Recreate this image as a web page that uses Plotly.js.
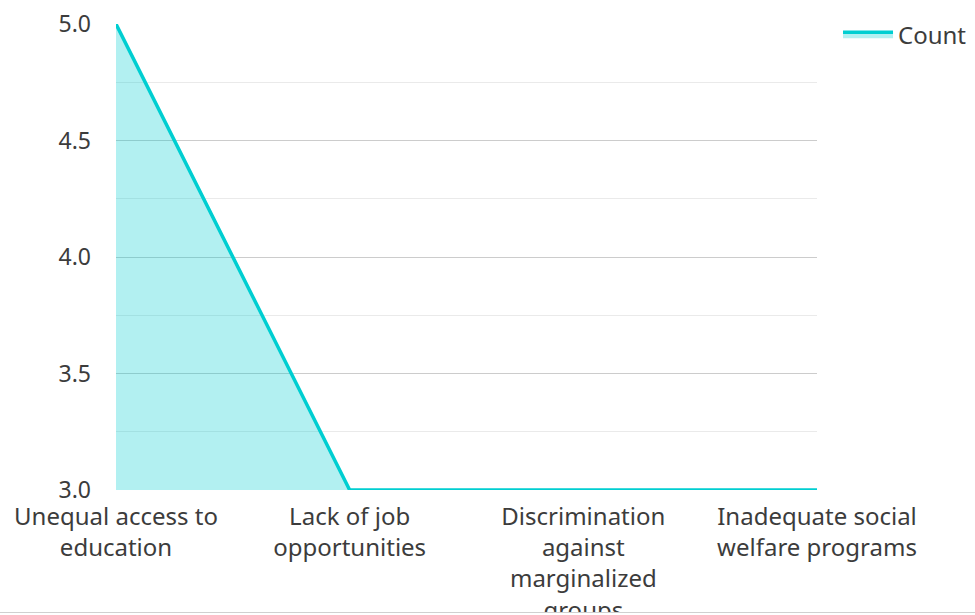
<!DOCTYPE html>
<html>
<head>
<meta charset="utf-8">
<script src="https://cdn.plot.ly/plotly-3.0.1.min.js"></script>
<style>
  html, body { margin: 0; padding: 0; background: #fff; overflow: hidden; }
  #wrap { width: 975px; height: 612px; overflow: hidden; border-bottom: 1px solid #d0d0d0; }
  #chart { width: 975px; height: 680px; }
</style>
</head>
<body>
<div id="wrap"><div id="chart"></div></div>
<script>
const categories = [
  "Unequal access to<br>education",
  "Lack of job<br>opportunities",
  "Discrimination<br>against<br>marginalized<br>groups",
  "Inadequate social<br>welfare programs"
];
const counts = [5, 3, 3, 3];
const seriesName = "Count";
const yTicks = [3.0, 3.5, 4.0, 4.5, 5.0];
const yTickLabels = ["3.0", "3.5", "4.0", "4.5", "5.0"];

const trace = {
  type: "scatter",
  mode: "lines",
  x: categories,
  y: counts,
  name: seriesName,
  fill: "tozeroy",
  fillcolor: "rgba(0,206,209,0.3)",
  line: { color: "#00CED1", width: 3.5 }
};

const layout = {
  width: 975,
  height: 680,
  margin: { l: 116, r: 158, t: 24, b: 190, autoexpand: false },
  paper_bgcolor: "#fff",
  plot_bgcolor: "#fff",
  font: { family: "Noto Sans, Open Sans, sans-serif", color: "#3c3c3c", size: 24 },
  showlegend: true,
  legend: {
    xref: "container", yref: "container",
    x: 0.8595, y: 0.982, xanchor: "left", yanchor: "top",
    itemwidth: 50, font: { size: 24 }
  },
  xaxis: {
    type: "category",
    range: [0, 3],
    showgrid: false,
    zeroline: false,
    showline: false,
    tickfont: { size: 24 },
    ticklabelstandoff: 10,
    automargin: false
  },
  yaxis: {
    range: [3, 5],
    tickvals: yTicks,
    ticktext: yTickLabels,
    showgrid: true,
    gridcolor: "#cccccc",
    gridwidth: 1,
    zeroline: false,
    showline: false,
    ticklabelstandoff: 24,
    tickfont: { size: 23 },
    minor: { dtick: 0.25, tick0: 3, showgrid: true, gridcolor: "#eaeaea", ticks: "" },
    automargin: false
  }
};

Plotly.newPlot("chart", [trace], layout, { displayModeBar: false, staticPlot: true });
</script>
</body>
</html>
